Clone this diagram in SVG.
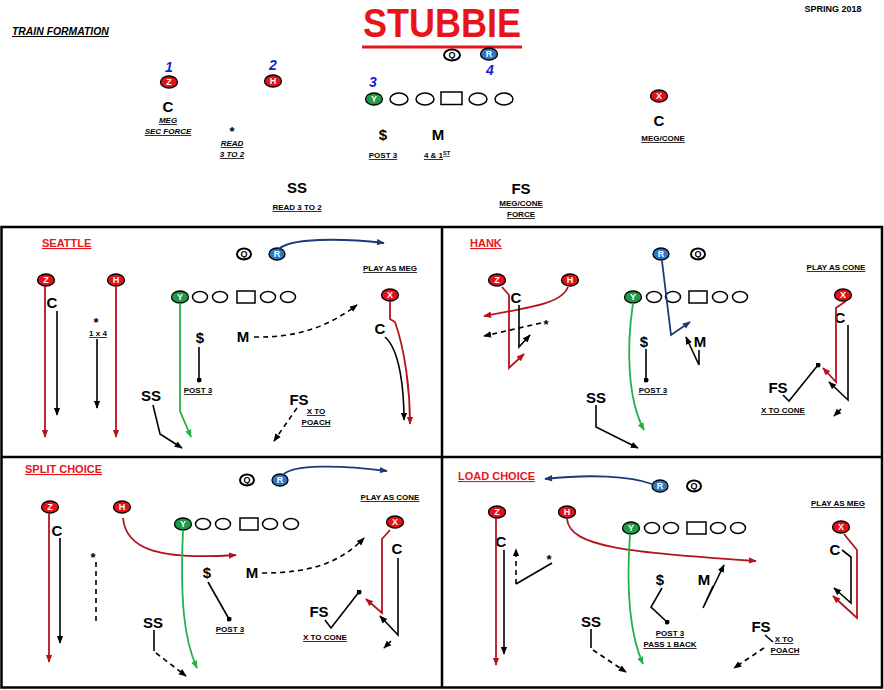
<svg xmlns="http://www.w3.org/2000/svg" width="884" height="690" viewBox="0 0 884 690">
<style>
text{font-family:"Liberation Sans",Arial,sans-serif;font-weight:bold}
.big{font-size:15px;fill:#000;text-anchor:middle}
.sm{font-size:8px;fill:#000;text-anchor:middle;text-decoration:underline}
.smi{font-size:8px;fill:#000;text-anchor:middle;text-decoration:underline;font-style:italic}
.num{font-size:14px;fill:#1a1ad8;font-style:italic;text-anchor:middle}
.ttl{font-size:11px;fill:#e8141c;text-decoration:underline}
.ast{font-size:13px;fill:#000;text-anchor:middle}
.pl{font-size:9px;fill:#fff;text-anchor:middle}
.red{fill:#e3121a;stroke:#000;stroke-width:1.3}
.grn{fill:#1f9a45;stroke:#000;stroke-width:1.3}
.blu{fill:#2f78c0;stroke:#000;stroke-width:1.3}
.ol{fill:#fff;stroke:#000;stroke-width:1.5}
.q{fill:#fff;stroke:#000;stroke-width:2}
.qt{font-size:9px;fill:#000;text-anchor:middle}
.rk{fill:none;stroke:#000;stroke-width:1.6}
.rr{fill:none;stroke:#b3141c;stroke-width:1.8}
.rg{fill:none;stroke:#25b04a;stroke-width:1.8}
.rb{fill:none;stroke:#1c3a78;stroke-width:1.8}
.dash{stroke-dasharray:5,4}
.frame{fill:none;stroke:#000;stroke-width:2.5}
</style>
<defs>
<marker id="ak" viewBox="0 0 10 10" refX="9" refY="5" markerWidth="8" markerHeight="8" markerUnits="userSpaceOnUse" orient="auto"><path d="M0,1 L10,5 L0,9 z" fill="#000"/></marker>
<marker id="ar" viewBox="0 0 10 10" refX="9" refY="5" markerWidth="8" markerHeight="8" markerUnits="userSpaceOnUse" orient="auto"><path d="M0,1 L10,5 L0,9 z" fill="#b3141c"/></marker>
<marker id="ag" viewBox="0 0 10 10" refX="9" refY="5" markerWidth="8" markerHeight="8" markerUnits="userSpaceOnUse" orient="auto"><path d="M0,1 L10,5 L0,9 z" fill="#25b04a"/></marker>
<marker id="ab" viewBox="0 0 10 10" refX="9" refY="5" markerWidth="8" markerHeight="8" markerUnits="userSpaceOnUse" orient="auto"><path d="M0,1 L10,5 L0,9 z" fill="#1c3a78"/></marker>
<marker id="dot" viewBox="0 0 10 10" refX="5" refY="5" markerWidth="5" markerHeight="5" markerUnits="userSpaceOnUse"><circle cx="5" cy="5" r="5" fill="#000"/></marker>
</defs>
<rect width="884" height="690" fill="#fff"/>

<!-- Frame -->
<g id="frame">
<rect class="frame" x="1.5" y="227" width="880.5" height="460.5"/>
<line class="frame" x1="442" y1="227" x2="442" y2="688"/>
<line class="frame" x1="1.5" y1="457" x2="882" y2="457"/>
</g>

<!-- Header -->
<g id="header">
<text x="363" y="37" font-size="40" fill="#e8141c" textLength="158" lengthAdjust="spacingAndGlyphs">STUBBIE</text>
<line x1="362" y1="47" x2="522" y2="47" stroke="#e8141c" stroke-width="3"/>
<text x="833" y="12" font-size="9" text-anchor="middle">SPRING 2018</text>
<text x="12" y="35" font-size="10.4" font-style="italic" text-decoration="underline">TRAIN FORMATION</text>
</g>

<!-- Top formation -->
<g id="top-Z"><text class="num" x="169" y="72">1</text><ellipse class="red" cx="169" cy="82" rx="8.5" ry="6"/><text class="pl" x="169" y="85">Z</text></g>
<g id="top-H"><text class="num" x="273" y="70">2</text><ellipse class="red" cx="273" cy="81" rx="8.5" ry="6"/><text class="pl" x="273" y="84">H</text></g>
<g id="top-C1"><text class="big" x="168" y="112">C</text><text class="smi" x="168" y="123">MEG</text><text class="smi" x="168" y="134">SEC FORCE</text></g>
<g id="top-star"><text class="ast" x="232" y="136">*</text><text class="smi" x="232" y="146">READ</text><text class="smi" x="232" y="157">3 TO 2</text></g>
<g id="top-SS"><text class="big" x="297" y="193">SS</text><text class="sm" x="297" y="210">READ 3 TO 2</text></g>
<g id="top-Q"><ellipse class="q" cx="452" cy="55" rx="8" ry="5.5"/><text class="qt" x="452" y="58">Q</text></g>
<g id="top-R"><ellipse class="blu" cx="489" cy="54" rx="8.5" ry="6"/><text class="pl" x="489" y="57">R</text><text class="num" x="490" y="75">4</text></g>
<g id="top-Y"><text class="num" x="373" y="87">3</text><ellipse class="grn" cx="374" cy="99" rx="8.5" ry="6"/><text class="pl" x="374" y="102">Y</text></g>
<g id="top-line"><ellipse class="ol" cx="399" cy="99" rx="9" ry="6"/><ellipse class="ol" cx="425" cy="99" rx="9" ry="6"/><rect class="ol" x="441" y="92" width="21" height="12.5"/><ellipse class="ol" cx="478" cy="99" rx="9" ry="6"/><ellipse class="ol" cx="504" cy="99" rx="9" ry="6"/></g>
<g id="top-dollar"><text class="big" x="383" y="140">$</text><text class="sm" x="383" y="158">POST 3</text></g>
<g id="top-M"><text class="big" x="438" y="140">M</text><text class="sm" x="437" y="158">4 &amp; 1<tspan font-size="5.5" dy="-3">ST</tspan></text></g>
<g id="top-FS"><text class="big" x="521" y="194">FS</text><text class="sm" x="521" y="206">MEG/CONE</text><text class="sm" x="521" y="217">FORCE</text></g>
<g id="top-X"><ellipse class="red" cx="659" cy="96" rx="8.5" ry="6"/><text class="pl" x="659" y="99">X</text><text class="big" x="659" y="126">C</text><text class="sm" x="663" y="141">MEG/CONE</text></g>

<!-- SEATTLE -->
<g id="seattle-title"><text class="ttl" x="42" y="247">SEATTLE</text></g>
<g id="seattle-Z"><ellipse class="red" cx="46" cy="280" rx="8.5" ry="6"/><text class="pl" x="46" y="283">Z</text></g>
<g id="seattle-H"><ellipse class="red" cx="116" cy="280" rx="8.5" ry="6"/><text class="pl" x="116" y="283">H</text></g>
<g id="seattle-C"><text class="big" x="52" y="308">C</text></g>
<g id="seattle-star"><text class="ast" x="96" y="327">*</text><text class="sm" x="98" y="336" font-size="7">1 x 4</text></g>
<g id="seattle-Y"><ellipse class="grn" cx="180" cy="297" rx="8.5" ry="6"/><text class="pl" x="180" y="300">Y</text></g>
<g id="seattle-line"><ellipse class="ol" cx="200" cy="297" rx="7.5" ry="5.5"/><ellipse class="ol" cx="220" cy="297" rx="7.5" ry="5.5"/><rect class="ol" x="237" y="291" width="18" height="12"/><ellipse class="ol" cx="268" cy="297" rx="7.5" ry="5.5"/><ellipse class="ol" cx="288" cy="297" rx="7.5" ry="5.5"/></g>
<g id="seattle-dollar"><text class="big" x="200" y="343">$</text><text class="sm" x="198" y="393">POST 3</text></g>
<g id="seattle-SS"><text class="big" x="151" y="401">SS</text></g>
<g id="seattle-Q"><ellipse class="q" cx="244" cy="254" rx="7" ry="5.5"/><text class="qt" x="244" y="257">Q</text></g>
<g id="seattle-R"><ellipse class="blu" cx="277" cy="254" rx="8" ry="6"/><text class="pl" x="277" y="257">R</text></g>
<g id="seattle-play"><text class="sm" x="390" y="271">PLAY AS MEG</text></g>
<g id="seattle-X"><ellipse class="red" cx="390" cy="295" rx="8.5" ry="6"/><text class="pl" x="390" y="298">X</text></g>
<g id="seattle-C2"><text class="big" x="380" y="334">C</text></g>
<g id="seattle-M"><text class="big" x="243" y="342">M</text></g>
<g id="seattle-FS"><text class="big" x="299" y="405">FS</text><text class="sm" x="316" y="414">X TO</text><text class="sm" x="316" y="425">POACH</text></g>

<!-- HANK -->
<g id="hank-title"><text class="ttl" x="470" y="247">HANK</text></g>
<g id="hank-Z"><ellipse class="red" cx="497" cy="280" rx="8.5" ry="6"/><text class="pl" x="497" y="283">Z</text></g>
<g id="hank-H"><ellipse class="red" cx="570" cy="280" rx="8.5" ry="6"/><text class="pl" x="570" y="283">H</text></g>
<g id="hank-C"><text class="big" x="516" y="303">C</text></g>
<g id="hank-star"><text class="ast" x="546" y="329">*</text></g>
<g id="hank-R"><ellipse class="blu" cx="661" cy="254" rx="8" ry="6"/><text class="pl" x="661" y="257">R</text></g>
<g id="hank-Q"><ellipse class="q" cx="698" cy="254" rx="7" ry="5.5"/><text class="qt" x="698" y="257">Q</text></g>
<g id="hank-Y"><ellipse class="grn" cx="633" cy="297" rx="8.5" ry="6"/><text class="pl" x="633" y="300">Y</text></g>
<g id="hank-line"><ellipse class="ol" cx="654" cy="297" rx="7.5" ry="5.5"/><ellipse class="ol" cx="673" cy="297" rx="7.5" ry="5.5"/><rect class="ol" x="689" y="291" width="18" height="12"/><ellipse class="ol" cx="720" cy="297" rx="7.5" ry="5.5"/><ellipse class="ol" cx="740" cy="297" rx="7.5" ry="5.5"/></g>
<g id="hank-dollar"><text class="big" x="644" y="347">$</text><text class="sm" x="653" y="393">POST 3</text></g>
<g id="hank-M"><text class="big" x="700" y="347">M</text></g>
<g id="hank-SS"><text class="big" x="596" y="403">SS</text></g>
<g id="hank-play"><text class="sm" x="836" y="270">PLAY AS CONE</text></g>
<g id="hank-X"><ellipse class="red" cx="843" cy="295" rx="8.5" ry="6"/><text class="pl" x="843" y="298">X</text></g>
<g id="hank-C2"><text class="big" x="840" y="323">C</text></g>
<g id="hank-FS"><text class="big" x="778" y="393">FS</text><text class="sm" x="783" y="413">X TO CONE</text></g>

<!-- SPLIT CHOICE -->
<g id="split-title"><text class="ttl" x="25" y="473">SPLIT CHOICE</text></g>
<g id="split-Z"><ellipse class="red" cx="50" cy="507" rx="8.5" ry="6"/><text class="pl" x="50" y="510">Z</text></g>
<g id="split-H"><ellipse class="red" cx="122" cy="507" rx="8.5" ry="6"/><text class="pl" x="122" y="510">H</text></g>
<g id="split-C"><text class="big" x="57" y="536">C</text></g>
<g id="split-star"><text class="ast" x="93" y="562">*</text></g>
<g id="split-Y"><ellipse class="grn" cx="183" cy="524" rx="8.5" ry="6"/><text class="pl" x="183" y="527">Y</text></g>
<g id="split-line"><ellipse class="ol" cx="203" cy="524" rx="7.5" ry="5.5"/><ellipse class="ol" cx="223" cy="524" rx="7.5" ry="5.5"/><rect class="ol" x="240" y="518" width="18" height="12"/><ellipse class="ol" cx="270" cy="524" rx="7.5" ry="5.5"/><ellipse class="ol" cx="291" cy="524" rx="7.5" ry="5.5"/></g>
<g id="split-dollar"><text class="big" x="207" y="578">$</text><text class="sm" x="230" y="632">POST 3</text></g>
<g id="split-SS"><text class="big" x="153" y="628">SS</text></g>
<g id="split-Q"><ellipse class="q" cx="247" cy="480" rx="7" ry="5.5"/><text class="qt" x="247" y="483">Q</text></g>
<g id="split-R"><ellipse class="blu" cx="280" cy="480" rx="8" ry="6"/><text class="pl" x="280" y="483">R</text></g>
<g id="split-play"><text class="sm" x="390" y="500">PLAY AS CONE</text></g>
<g id="split-X"><ellipse class="red" cx="395" cy="522" rx="8.5" ry="6"/><text class="pl" x="395" y="525">X</text></g>
<g id="split-C2"><text class="big" x="397" y="554">C</text></g>
<g id="split-M"><text class="big" x="252" y="578">M</text></g>
<g id="split-FS"><text class="big" x="319" y="617">FS</text><text class="sm" x="325" y="640">X TO CONE</text></g>

<!-- LOAD CHOICE -->
<g id="load-title"><text class="ttl" x="458" y="480">LOAD CHOICE</text></g>
<g id="load-R"><ellipse class="blu" cx="660" cy="486" rx="8" ry="6"/><text class="pl" x="660" y="489">R</text></g>
<g id="load-Q"><ellipse class="q" cx="694" cy="486" rx="7" ry="5.5"/><text class="qt" x="694" y="489">Q</text></g>
<g id="load-Z"><ellipse class="red" cx="497" cy="512" rx="8.5" ry="6"/><text class="pl" x="497" y="515">Z</text></g>
<g id="load-H"><ellipse class="red" cx="567" cy="512" rx="8.5" ry="6"/><text class="pl" x="567" y="515">H</text></g>
<g id="load-C"><text class="big" x="501" y="547">C</text></g>
<g id="load-star"><text class="ast" x="549" y="564">*</text></g>
<g id="load-Y"><ellipse class="grn" cx="631" cy="528" rx="8.5" ry="6"/><text class="pl" x="631" y="531">Y</text></g>
<g id="load-line"><ellipse class="ol" cx="652" cy="528" rx="7.5" ry="5.5"/><ellipse class="ol" cx="671" cy="528" rx="7.5" ry="5.5"/><rect class="ol" x="687" y="522" width="19" height="12"/><ellipse class="ol" cx="718" cy="528" rx="7.5" ry="5.5"/><ellipse class="ol" cx="738" cy="528" rx="7.5" ry="5.5"/></g>
<g id="load-dollar"><text class="big" x="660" y="585">$</text><text class="sm" x="670" y="636">POST 3</text><text class="sm" x="670" y="647">PASS 1 BACK</text></g>
<g id="load-M"><text class="big" x="704" y="585">M</text></g>
<g id="load-SS"><text class="big" x="591" y="627">SS</text></g>
<g id="load-FS"><text class="big" x="761" y="632">FS</text><text class="sm" x="784" y="642">X TO</text><text class="sm" x="785" y="653">POACH</text></g>
<g id="load-play"><text class="sm" x="838" y="506">PLAY AS MEG</text></g>
<g id="load-X"><ellipse class="red" cx="841" cy="527" rx="8.5" ry="6"/><text class="pl" x="841" y="530">X</text></g>
<g id="load-C2"><text class="big" x="835" y="555">C</text></g>

<!-- Connectors -->
<g id="connectors">
<!-- SEATTLE -->
<path class="rr" d="M45,286 L45,437" marker-end="url(#ar)"/>
<path class="rr" d="M116,286 L116,437" marker-end="url(#ar)"/>
<path class="rk" d="M57,311 L57,415" marker-end="url(#ak)"/>
<path class="rk" d="M97,339 L97,408" marker-end="url(#ak)"/>
<path class="rg" d="M180,303 L180,411 L191,437" marker-end="url(#ag)"/>
<path class="rk" d="M199,347 L199,380" marker-end="url(#dot)"/>
<path class="rk" d="M153,405 L160,434 L182,448" marker-end="url(#ak)"/>
<path class="rb" d="M279,249 C290,238 340,238 384,243" marker-end="url(#ab)"/>
<path class="rr" d="M390,301 L390,319 L395,322 C405,350 410,390 410,424" marker-end="url(#ar)"/>
<path class="rk" d="M385,337 C400,350 404,390 404,420" marker-end="url(#ak)"/>
<path class="rk dash" d="M254,337 C300,338 330,325 357,305" marker-end="url(#ak)"/>
<path class="rk dash" d="M297,408 L274,441" marker-end="url(#ak)"/>
<!-- HANK -->
<path class="rr" d="M502,287 L509,295 L509,368 L524,354" marker-end="url(#ar)"/>
<path class="rr" d="M568,287 C562,302 540,306 484,316" marker-end="url(#ar)"/>
<path class="rk" d="M519,305 L519,347 L530,335" marker-end="url(#ak)"/>
<path class="rk dash" d="M541,323 L484,336" marker-end="url(#ak)"/>
<path class="rb" d="M662,261 L671,335 L690,322" marker-end="url(#ab)"/>
<path class="rk" d="M699,350 L699,365 L686,337" marker-end="url(#ak)"/>
<path class="rk" d="M646,349 L646,380" marker-end="url(#dot)"/>
<path class="rk" d="M596,405 L596,427 L638,448" marker-end="url(#ak)"/>
<path class="rg" d="M633,303 C626,350 628,400 644,430" marker-end="url(#ag)"/>
<path class="rr" d="M846,301 L836,308 L836,382 L823,368" marker-end="url(#ar)"/>
<path class="rk" d="M848,325 L848,400 L829,382" marker-end="url(#ak)"/>
<path class="rk dash" d="M841,409 L834,416" marker-end="url(#ak)"/>
<path class="rk" d="M783,395 L789,401 L818,365" marker-end="url(#dot)"/>
<!-- SPLIT CHOICE -->
<path class="rr" d="M49,513 L49,662" marker-end="url(#ar)"/>
<path class="rk" d="M60,538 L60,643" marker-end="url(#ak)"/>
<path class="rk dash" d="M96,562 L96,623"/>
<path class="rr" d="M123,518 C126,550 160,560 236,555" marker-end="url(#ar)"/>
<path class="rg" d="M183,530 C180,600 184,640 197,668" marker-end="url(#ag)"/>
<path class="rk" d="M208,582 L229,619" marker-end="url(#dot)"/>
<path class="rk" d="M154,630 L154,651"/>
<path class="rk dash" d="M156,653 L186,676" marker-end="url(#ak)"/>
<path class="rb" d="M283,475 C292,464 340,465 387,471" marker-end="url(#ab)"/>
<path class="rr" d="M390,530 L382,539 L382,613 L366,599" marker-end="url(#ar)"/>
<path class="rk" d="M398,558 L398,635 L380,616" marker-end="url(#ak)"/>
<path class="rk dash" d="M391,641 L384,648" marker-end="url(#ak)"/>
<path class="rk dash" d="M262,573 C310,573 340,563 364,538" marker-end="url(#ak)"/>
<path class="rk" d="M325,620 L331,628 L359,592" marker-end="url(#dot)"/>
<!-- LOAD CHOICE -->
<path class="rb" d="M652,484 C630,476 590,474 545,479" marker-end="url(#ab)"/>
<path class="rr" d="M496,518 L496,665" marker-end="url(#ar)"/>
<path class="rk" d="M504,550 L504,654" marker-end="url(#ak)"/>
<path class="rk dash" d="M516,584 L516,549" marker-end="url(#ak)"/>
<path class="rk" d="M516,584 L552,563"/>
<path class="rr" d="M567,519 C570,548 630,552 756,561" marker-end="url(#ar)"/>
<path class="rg" d="M630,534 C626,590 630,635 643,664" marker-end="url(#ag)"/>
<path class="rk" d="M662,588 L651,607 L667,622" marker-end="url(#dot)"/>
<path class="rk" d="M713,586 L703,608 L724,565" marker-end="url(#ak)"/>
<path class="rk" d="M591,629 L591,648"/>
<path class="rk dash" d="M593,650 L626,672" marker-end="url(#ak)"/>
<path class="rk" d="M765,635 L773,642"/>
<path class="rk dash" d="M764,648 L734,668" marker-end="url(#ak)"/>
<path class="rr" d="M844,534 L857,550 L857,618 L833,596" marker-end="url(#ar)"/>
<path class="rk" d="M842,550 L851,557 L851,603 L834,588" marker-end="url(#ak)"/>
</g>
</svg>
